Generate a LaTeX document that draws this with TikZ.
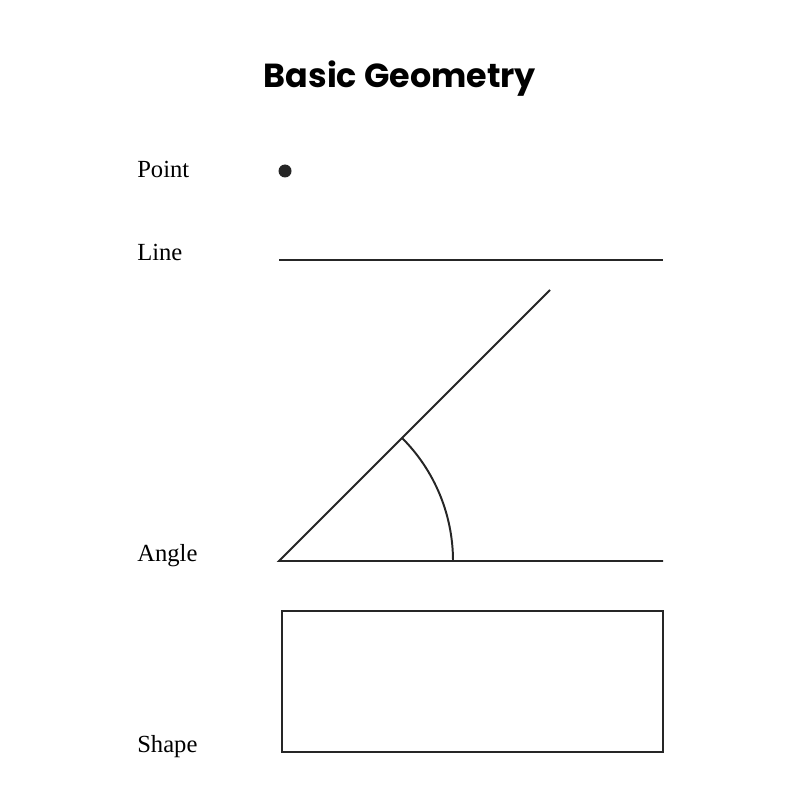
\documentclass[tikz,border=0pt]{standalone}
\usepackage{fontspec}
\setmainfont{Liberation Serif}
\newfontfamily\titlefont{Poppins}
\usetikzlibrary{positioning}
\tikzset{
  lbl/.style={anchor=base west, inner sep=0pt, font=\fontsize{17.5}{20}\selectfont},
  shp/.style={line width=1.4pt, black!85}
}
\begin{document}
\begin{tikzpicture}[x=0.025cm, y=-0.025cm]
        \useasboundingbox (0,0) rectangle (800,800);
        % Title
        \node[font=\titlefont\bfseries\fontsize{23.7}{28}\selectfont] (title) at (400,79) {Basic Geometry};
        % Labels on the left
        \node[lbl] (point) at (137,178) {Point};
        \node[lbl] (line) at (137,260) {Line};
        \node[lbl] (angle) at (137,561) {Angle};
        \node[lbl] (shape) at (137,752) {Shape};
        % Point
        \fill[black!85] (285,171) circle (6.5);
        % Line
        \coordinate (l1) at (279,260);
        \coordinate (l2) at (663,260);
        \draw[shp] (l1) -- (l2);
        % Angle
        \coordinate (v) at (279,561);
        \coordinate (a1) at (663,561);
        \coordinate (a2) at (550,290);
        \draw[shp] (a1) -- (v) -- (a2);
        \draw[shp] (453,561) arc[start angle=0, end angle=-45, radius=174];
        % Shape
        \draw[shp] (282,611) rectangle (663,752);
    \end{tikzpicture}
\end{document}
